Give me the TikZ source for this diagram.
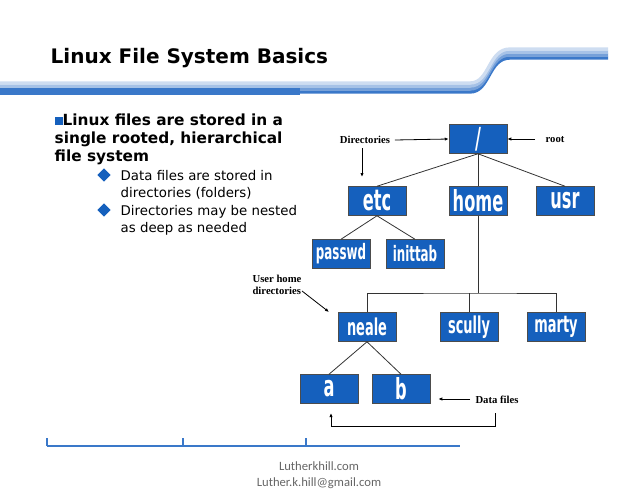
\documentclass[tikz,border=0pt]{standalone}
\usepackage{fontspec}
\usepackage{graphicx}
\setmainfont{DejaVu Sans}
\newfontfamily\boxf{DejaVu Sans Condensed}
\newfontfamily\serf{Liberation Serif}
\newfontfamily\footf{Carlito}
\usetikzlibrary{arrows.meta,shapes.geometric}
\definecolor{bx}{HTML}{1560BD}
\definecolor{hb}{HTML}{3A78C9}
\newcommand{\tallt}[1]{\scalebox{0.9}[1.45]{#1}}
\tikzset{
 fb/.style={draw=black!70,fill=bx,minimum width=43.5pt,minimum height=21.75pt,inner sep=0pt,text=white,font=\boxf\bfseries\fontsize{15}{15}\selectfont},
 ln/.style={draw=black!80,line width=0.6pt},
 ar/.style={draw=black,line width=0.6pt,-{Latex[length=3pt,width=2.5pt]}},
 lab/.style={font=\serf\bfseries\fontsize{8}{9.5}\selectfont,align=left},
 sub/.style={anchor=west,font=\fontsize{10}{12.5}\selectfont},
}
\begin{document}
\begin{tikzpicture}[x=0.75pt,y=-0.75pt]
\useasboundingbox (0,0) rectangle (638,493);
% header swoosh
\foreach \o/\c in {0/hb,3/hb!70,6/hb!45,9/hb!25}{
 \draw[\c,line width=2.5pt] (0,92-\o) -- (470,92-\o) .. controls (490,92-\o) and (488,58-\o) .. (510,58-\o) -- (608,58-\o);}
\fill[hb] (0,88) rectangle (300,95);
\node[anchor=west,font=\bfseries\fontsize{15}{18}\selectfont] (title) at (46,58) {Linux File System Basics};
% left text
\node[anchor=north west,align=left,font=\bfseries\fontsize{11.5}{13.5}\selectfont] (main) at (50,109) {{\color{bx}\rule{6pt}{6pt}}Linux files are stored in a\\single rooted, hierarchical\\file system};
\node[diamond,fill=bx,inner sep=2.5pt] (d1) at (104,175) {};
\node[diamond,fill=bx,inner sep=2.5pt] (d2) at (104,210) {};
\node[sub,align=left,anchor=north west] (t1) at (116,166) {Data files are stored in\\directories (folders)};
\node[sub,align=left,anchor=north west] (t2) at (116,201) {Directories may be nested\\as deep as needed};
% boxes
\node[fb] (root) at (478,139) {\tallt{/}};
\node[fb] (etc) at (377,201) {\tallt{etc}};
\node[fb] (home) at (478,201) {\tallt{home}};
\node[fb] (usr) at (565,201) {\tallt{usr}};
\node[fb,font=\boxf\bfseries\fontsize{11}{11}\selectfont] (passwd) at (341,254) {\tallt{passwd}};
\node[fb,font=\boxf\bfseries\fontsize{11}{11}\selectfont] (inittab) at (415,254) {\tallt{inittab}};
\node[fb,font=\boxf\bfseries\fontsize{12}{12}\selectfont] (neale) at (367,327) {\tallt{neale}};
\node[fb,font=\boxf\bfseries\fontsize{12}{12}\selectfont] (scully) at (469,327) {\tallt{scully}};
\node[fb,font=\boxf\bfseries\fontsize{12}{12}\selectfont] (marty) at (556,327) {\tallt{marty}};
\node[fb] (a) at (329,389) {\tallt{a}};
\node[fb] (b) at (401,389) {\tallt{b}};
% tree
\draw[ln] (root.south) -- (etc.north);
\draw[ln] (root.south) -- (home.north);
\draw[ln] (root.south) -- (usr.north);
\draw[ln] (etc.south) -- (passwd.north);
\draw[ln] (etc.south) -- (inittab.north);
\coordinate (hj) at (478,293);
\draw[ln] (home.south) -- (hj);
\draw[ln] (neale.north) |- (hj) -| (marty.north);
\draw[ln] (scully.north) -- (scully.north |- hj);
\draw[ln] (neale.south) -- (a.north);
\draw[ln] (neale.south) -- (b.north);
% labels
\node[lab] (ldir) at (365,140) {Directories};
\draw[ar] (ldir.east) -- (root.west);
\draw[ar] (362,148) -- (362,177);
\node[lab] (lroot) at (555,140) {root};
\draw[ar] (535,139) -- (root.east);
\node[lab] (luh) at (277,285) {User home\\directories};
\draw[ar] (302,291) -- (329,312);
\node[lab] (ldf) at (497,400) {Data files};
\draw[ar] (470,399) -- ([xshift=6]b.east |- 0,399);
\draw[ar] (495,413) -- (495,426) -- (331,426) -- (331,413);
% bottom rule
\draw[hb,line width=0.8pt] (47,446) -- (460,446);
\foreach \x in {47,183,306} \draw[hb,line width=0.8pt] (\x,438) -- (\x,446);
\node[font=\footf\fontsize{9.5}{12}\selectfont,text=black!60,align=center] (foot) at (319,475) {Lutherkhill.com\\Luther.k.hill@gmail.com};
\end{tikzpicture}
\end{document}
